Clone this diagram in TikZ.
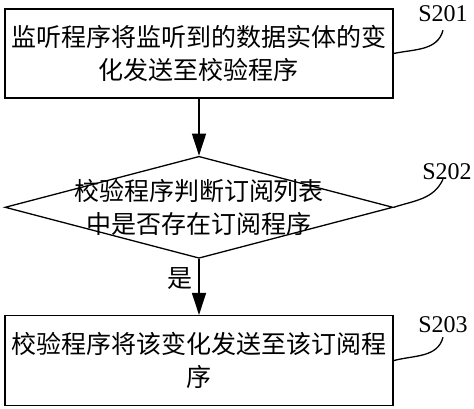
\documentclass[tikz,border=0pt]{standalone}
\usepackage{fontspec}
\setmainfont{Liberation Serif}
\newfontfamily\cjk{Noto Sans CJK SC}
\usetikzlibrary{positioning,shapes.geometric,arrows.meta}
\tikzset{stepbox/.style={rectangle, draw=black, line width=1.3pt, minimum width=388pt, align=center, inner sep=0pt},
  cjktext/.style={font={\cjk\fontsize{25}{33}\selectfont}},
  steplabel/.style={font={\fontsize{24}{26}\selectfont}, inner sep=0pt}}

\begin{document}
\begin{tikzpicture}[node distance=57pt, x=1pt, y=1pt,
    flow/.style={-{Triangle[length=22pt,width=14pt]}, line width=1.3pt},
    decision/.style={diamond, draw=black, line width=1.3pt, minimum width=388pt,
      minimum height=102pt, inner sep=0pt, aspect=3.8},
    tail/.style={line width=1.3pt}
  ]
  \useasboundingbox (0,0) rectangle (474,-409);

  % steps
  \node[stepbox, cjktext, minimum height=89pt] (listen) at (199,-53.5)
    {监听程序将监听到的数据实体的变\\化发送至校验程序};
  \node[decision, below=57pt of listen,
    label={[cjktext, align=center]center:{校验程序判断订阅列表\\中是否存在订阅程序}}] (judge) {};
  \node[stepbox, cjktext, minimum height=90pt, below=56pt of judge] (send)
    {校验程序将该变化发送至该订阅程\\序};

  % step labels
  \node[steplabel] (s201) at (443,-14) {S201};
  \node[steplabel] (s202) at (447,-172) {S202};
  \node[steplabel] (s203) at (443,-325) {S203};

  % flow
  \draw[flow] (listen) -- (judge);
  \draw[flow] (judge) -- node[cjktext, pos=0.35, left=6pt, inner sep=0pt] (yes) {是} (send);

  % label tails
  \draw[tail] (listen.east) to[out=12,in=-105] ([yshift=-8pt]s201.south);
  \draw[tail] (judge.east) to[out=18,in=-115] ([xshift=-4pt,yshift=1pt]s202.south);
  \draw[tail] (send.east) to[out=15,in=-105] ([yshift=-4pt]s203.south);

\end{tikzpicture}
\end{document}
